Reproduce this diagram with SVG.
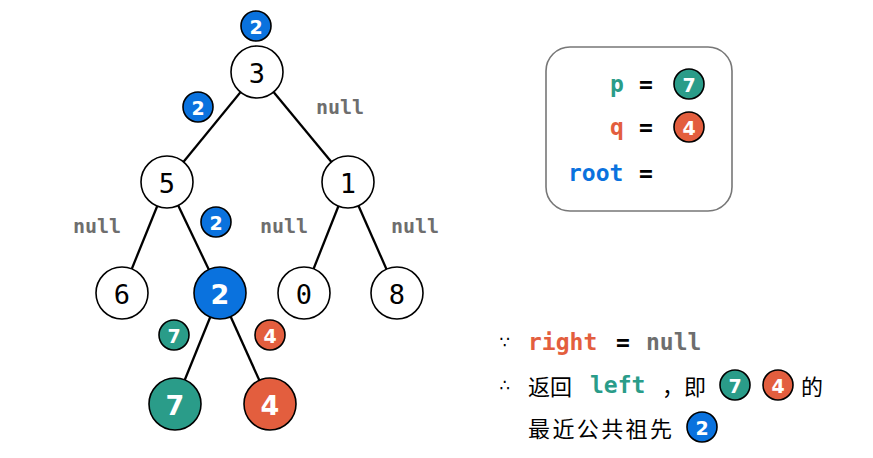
<svg xmlns="http://www.w3.org/2000/svg" width="873" height="458" viewBox="0 0 873 458">
<style>
.edge{stroke:#000;stroke-width:2.3;fill:none}
.node{fill:#fff;stroke:#000;stroke-width:1.6}
.nt{font-family:"DejaVu Sans Mono",monospace;font-size:27px;fill:#000;text-anchor:middle;dominant-baseline:central}
.bt{font-family:"DejaVu Sans",sans-serif;font-weight:bold;font-size:19px;fill:#fff;text-anchor:middle;dominant-baseline:central}
.bbt{font-family:"DejaVu Sans",sans-serif;font-weight:bold;font-size:27px;fill:#fff;text-anchor:middle;dominant-baseline:central}
.blue{fill:#0a72de;stroke:#000;stroke-width:1.6}
.teal{fill:#2a9c89;stroke:#000;stroke-width:1.6}
.red{fill:#e35e3e;stroke:#000;stroke-width:1.6}
.null{font-family:"DejaVu Sans Mono",monospace;font-weight:bold;font-size:20px;fill:#6e6e6e;text-anchor:middle;dominant-baseline:central}
.code{font-family:"DejaVu Sans Mono",monospace;font-weight:bold;font-size:23px;dominant-baseline:central}
.cn{font-family:"Noto Sans CJK SC",sans-serif;font-size:22px;fill:#000;dominant-baseline:central}
.sym{font-family:"DejaVu Sans",sans-serif;font-size:17px;fill:#000;dominant-baseline:central;text-anchor:middle}
</style>
<rect width="873" height="458" fill="#fff"/>
<g id="edges">
<line class="edge" x1="257" y1="72" x2="167" y2="182"/>
<line class="edge" x1="257" y1="72" x2="348" y2="182"/>
<line class="edge" x1="167" y1="182" x2="122" y2="293"/>
<line class="edge" x1="167" y1="182" x2="220" y2="293"/>
<line class="edge" x1="348" y1="182" x2="304" y2="293"/>
<line class="edge" x1="348" y1="182" x2="397" y2="293"/>
<line class="edge" x1="220" y1="293" x2="175" y2="404"/>
<line class="edge" x1="220" y1="293" x2="270" y2="404"/>
</g>
<g id="n3"><circle class="node" cx="257" cy="72" r="26"/><text class="nt" x="257" y="73">3</text></g>
<g id="n5"><circle class="node" cx="167" cy="182" r="26"/><text class="nt" x="167" y="183">5</text></g>
<g id="n1"><circle class="node" cx="348" cy="182" r="26"/><text class="nt" x="348" y="183">1</text></g>
<g id="n6"><circle class="node" cx="122" cy="293" r="26"/><text class="nt" x="122" y="294">6</text></g>
<g id="n2"><circle class="blue" cx="220" cy="293" r="26"/><text class="bbt" x="220" y="294">2</text></g>
<g id="n0"><circle class="node" cx="304" cy="293" r="26"/><text class="nt" x="304" y="294">0</text></g>
<g id="n8"><circle class="node" cx="397" cy="293" r="26"/><text class="nt" x="397" y="294">8</text></g>
<g id="n7"><circle class="teal" cx="175" cy="404" r="26"/><text class="bbt" x="175" y="405">7</text></g>
<g id="n4"><circle class="red" cx="270" cy="404" r="26"/><text class="bbt" x="270" y="405">4</text></g>
<g id="badges">
<circle class="blue" cx="256" cy="26" r="15"/><text class="bt" x="256" y="27">2</text>
<circle class="blue" cx="198" cy="107" r="15"/><text class="bt" x="198" y="108">2</text>
<circle class="blue" cx="216" cy="222" r="15"/><text class="bt" x="216" y="223">2</text>
<circle class="teal" cx="174" cy="335" r="15"/><text class="bt" x="174" y="336">7</text>
<circle class="red" cx="270" cy="335" r="15"/><text class="bt" x="270" y="336">4</text>
</g>
<g id="nulls">
<text class="null" x="340" y="107">null</text>
<text class="null" x="97" y="226">null</text>
<text class="null" x="284" y="226">null</text>
<text class="null" x="415" y="226">null</text>
</g>
<g id="box">
<rect x="546" y="47" width="186" height="164" rx="24" fill="#fff" stroke="#777" stroke-width="1.6"/>
<text class="code" x="617" y="84" fill="#2a9c89" text-anchor="middle">p</text>
<text class="code" x="646" y="84" fill="#000" text-anchor="middle">=</text>
<circle class="teal" cx="689" cy="84" r="15"/><text class="bt" x="689" y="85">7</text>
<text class="code" x="617" y="127" fill="#e35e3e" text-anchor="middle">q</text>
<text class="code" x="646" y="127" fill="#000" text-anchor="middle">=</text>
<circle class="red" cx="689" cy="127" r="15"/><text class="bt" x="689" y="128">4</text>
<text class="code" x="568" y="173" fill="#0a72de">root</text>
<text class="code" x="646" y="173" fill="#000" text-anchor="middle">=</text>
</g>
<g id="explain">
<text class="sym" x="505" y="342">∵</text>
<text class="code" x="528" y="342" fill="#e35e3e">right</text>
<text class="code" x="623" y="342" fill="#000" text-anchor="middle">=</text>
<text class="code" x="646" y="342" fill="#6e6e6e">null</text>
<text class="sym" x="505" y="385">∴</text>
<text class="cn" x="528" y="385">返回</text>
<text class="code" x="590" y="385" fill="#2a9c89">left</text>
<text class="cn" x="662" y="385">，即</text>
<circle class="teal" cx="735" cy="385" r="15"/><text class="bt" x="735" y="386">7</text>
<circle class="red" cx="778" cy="385" r="15"/><text class="bt" x="778" y="386">4</text>
<text class="cn" x="801" y="385">的</text>
<text class="cn" x="528" y="427" textLength="144">最近公共祖先</text>
<circle class="blue" cx="702" cy="427" r="15"/><text class="bt" x="702" y="428">2</text>
</g>
</svg>
